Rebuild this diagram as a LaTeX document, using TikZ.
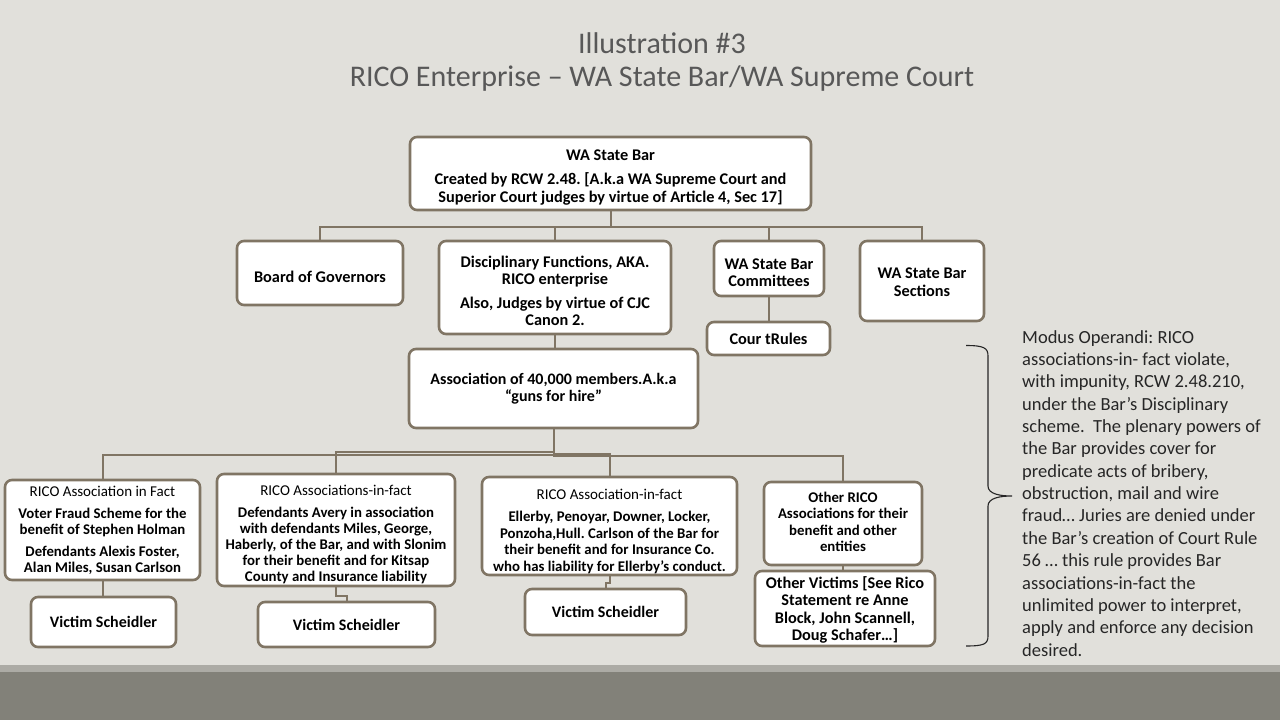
\documentclass[tikz,border=0pt]{standalone}
\usepackage{fontspec}
\setmainfont{Carlito}
\definecolor{bgc}{RGB}{225,224,219}
\definecolor{bandl}{RGB}{172,171,165}
\definecolor{bandd}{RGB}{130,129,121}
\definecolor{edgec}{RGB}{128,117,100}
\definecolor{titlec}{RGB}{88,88,88}
\definecolor{bodyc}{RGB}{38,38,38}
\begin{document}
\frenchspacing
\begin{tikzpicture}[x=1pt,y=-1pt,
  box/.style={draw=edgec,line width=2.6pt,fill=white,rounded corners=7pt,
    inner sep=0pt,align=center},
  txt/.style={inner sep=0pt,align=center},
  topf/.style={font=\bfseries\fontsize{16.3}{18}\selectfont},
  bodyf/.style={font=\bfseries\fontsize{14.8}{16.4}\selectfont},
  vicf/.style={font=\bfseries\fontsize{16}{18}\selectfont},
  link/.style={draw=edgec,line width=2pt}]
\useasboundingbox (0,0) rectangle (1280,720);
\fill[bgc] (0,0) rectangle (1280,665);
\fill[bandl] (0,665) rectangle (1280,672);
\fill[bandd] (0,672) rectangle (1280,720);
% title
\node[font=\fontsize{30}{33}\selectfont,text=titlec,align=center] (title) at (662,62.5)
  {Illustration \#3\\RICO Enterprise -- WA State Bar/WA Supreme Court};
% top level
\node[box,minimum width=401pt,minimum height=73pt] (top) at (610.5,173.5) {};
\node[txt,font=\bfseries\fontsize{16.3}{18.5}\selectfont] (toptext) at (610.5,177.5)
  {WA State Bar\\[5.5pt]Created by RCW 2.48. [A.k.a WA Supreme Court and\\Superior Court judges by virtue of Article 4, Sec 17]};
\node[box,minimum width=166pt,minimum height=64pt] (board) at (320,273) {};
\node[txt,topf] (boardtext) at (320,277) {Board of Governors};
\node[box,minimum width=232pt,minimum height=93pt] (disc) at (555,287.5) {};
\node[txt,font=\bfseries\fontsize{16.3}{17}\selectfont] (disctext) at (555,291)
  {Disciplinary Functions, AKA.\\RICO enterprise\\[7pt]Also, Judges by virtue of CJC\\Canon 2.};
\node[box,minimum width=110pt,minimum height=55pt] (comm) at (769,268.5) {};
\node[txt,font=\bfseries\fontsize{16.3}{17.5}\selectfont] (commtext) at (769,272.5) {WA State Bar\\Committees};
\node[box,minimum width=124pt,minimum height=80pt] (sect) at (922,281) {};
\node[txt,topf] (secttext) at (922,282) {WA State Bar\\Sections};
\node[box,topf,minimum width=123pt,minimum height=33pt] (rules) at (768.5,338.5) {Cour tRules};
\node[box,font=\bfseries\fontsize{16}{17}\selectfont,minimum width=289pt,minimum height=79pt] (assoc) at (553.5,388.5)
  {Association of 40,000 members.A.k.a\\``guns for hire''};
% bottom row
\node[box,minimum width=195pt,minimum height=100pt] (b1) at (102.5,530) {};
\node[txt,bodyf] (b1text) at (102.5,530.5)
  {{\mdseries\fontsize{15}{16.4}\selectfont RICO Association in Fact}\\[5.5pt]Voter Fraud Scheme for the\\benefit of Stephen Holman\\[5pt]Defendants Alexis Foster,\\Alan Miles, Susan Carlson};
\node[box,vicf,minimum width=145pt,minimum height=50pt] (v1) at (103.5,622) {Victim Scheidler};
\node[box,minimum width=238pt,minimum height=112pt] (b2) at (336,530) {};
\node[txt,font=\bfseries\fontsize{14.8}{16}\selectfont] (b2text) at (336,534.5)
  {{\mdseries\fontsize{15}{16}\selectfont RICO Associations-in-fact}\\[6pt]Defendants Avery in association\\with defendants Miles, George,\\Haberly, of the Bar, and with Slonim\\for their benefit and for Kitsap\\County and Insurance liability};
\node[box,vicf,minimum width=177pt,minimum height=45pt] (v2) at (346.5,624.5) {Victim Scheidler};
\node[box,minimum width=255pt,minimum height=98pt] (b3) at (609.5,526) {};
\node[txt,bodyf] (b3text) at (609.5,531.5)
  {{\mdseries\fontsize{15}{16.4}\selectfont RICO Association-in-fact}\\[5.5pt]Ellerby, Penoyar, Downer, Locker,\\Ponzoha,Hull. Carlson of the Bar for\\their benefit and for Insurance Co.\\who has liability for Ellerby's conduct.};
\node[box,vicf,minimum width=161pt,minimum height=46pt] (v3) at (605.5,612) {Victim Scheidler};
\node[box,minimum width=158pt,minimum height=83pt] (b4) at (843,523.5) {};
\node[txt,bodyf] (b4text) at (843,522)
  {Other RICO\\Associations for their\\benefit and other\\entities};
\node[box,minimum width=180pt,minimum height=75pt] (ov) at (845,608.5) {};
\node[txt,font=\bfseries\fontsize{16.3}{17.3}\selectfont] (ovtext) at (845,610)
  {Other Victims [See Rico\\Statement re Anne\\Block, John Scannell,\\Doug Schafer\ldots]};
% connectors
\draw[link] (top.south) -- ++(0,16) -| (board.north);
\draw[link] (top.south) -- ++(0,16) -| (disc.north);
\draw[link] (top.south) -- ++(0,16) -| (comm.north);
\draw[link] (top.south) -- ++(0,16) -| (sect.north);
\draw[link] (comm.south) -- (comm.south |- rules.north);
\draw[link] (disc.south) -- (disc.south |- assoc.north);
\draw[link] (assoc.south) -- ++(0,26) -| (b1.north);
\draw[link] (assoc.south) -- ++(0,23) -| (b2.north);
\draw[link] (assoc.south) -- ++(0,25) -| (b3.north);
\draw[link] (assoc.south) -- ++(0,27) -| (b4.north);
\draw[link] (b1.south) -- (b1.south |- v1.north);
\draw[link] (b2.south) -- ++(0,9) -| (v2.north);
\draw[link] (b3.south) -- ++(0,7) -| (v3.north);
\draw[link] (b4.south) -- (b4.south |- ov.north);
% brace
\draw[bodyc,line width=1.1pt] (966,345.5) .. controls (984,345.5) and (988,348) .. (988,356)
  -- (988,486) .. controls (988,494) and (1000,496) .. (1012,496)
  .. controls (1000,496) and (988,498) .. (988,506)
  -- (988,636) .. controls (988,644) and (984,646) .. (966,646);
% modus operandi text
\node[anchor=north west,inner sep=0pt,align=left,text=bodyc,
  font=\fontsize{18.5}{22.36}\selectfont] (mo) at (1022,330)
  {Modus Operandi: RICO\\associations-in- fact violate,\\with impunity, RCW 2.48.210,\\under the Bar's Disciplinary\\scheme.\ \ The plenary powers of\\the Bar provides cover for\\predicate acts of bribery,\\obstruction, mail and wire\\fraud\ldots\ Juries are denied under\\the Bar's creation of Court Rule\\56 \ldots\ this rule provides Bar\\associations-in-fact the\\unlimited power to interpret,\\apply and enforce any decision\\desired.};
\end{tikzpicture}
\end{document}
